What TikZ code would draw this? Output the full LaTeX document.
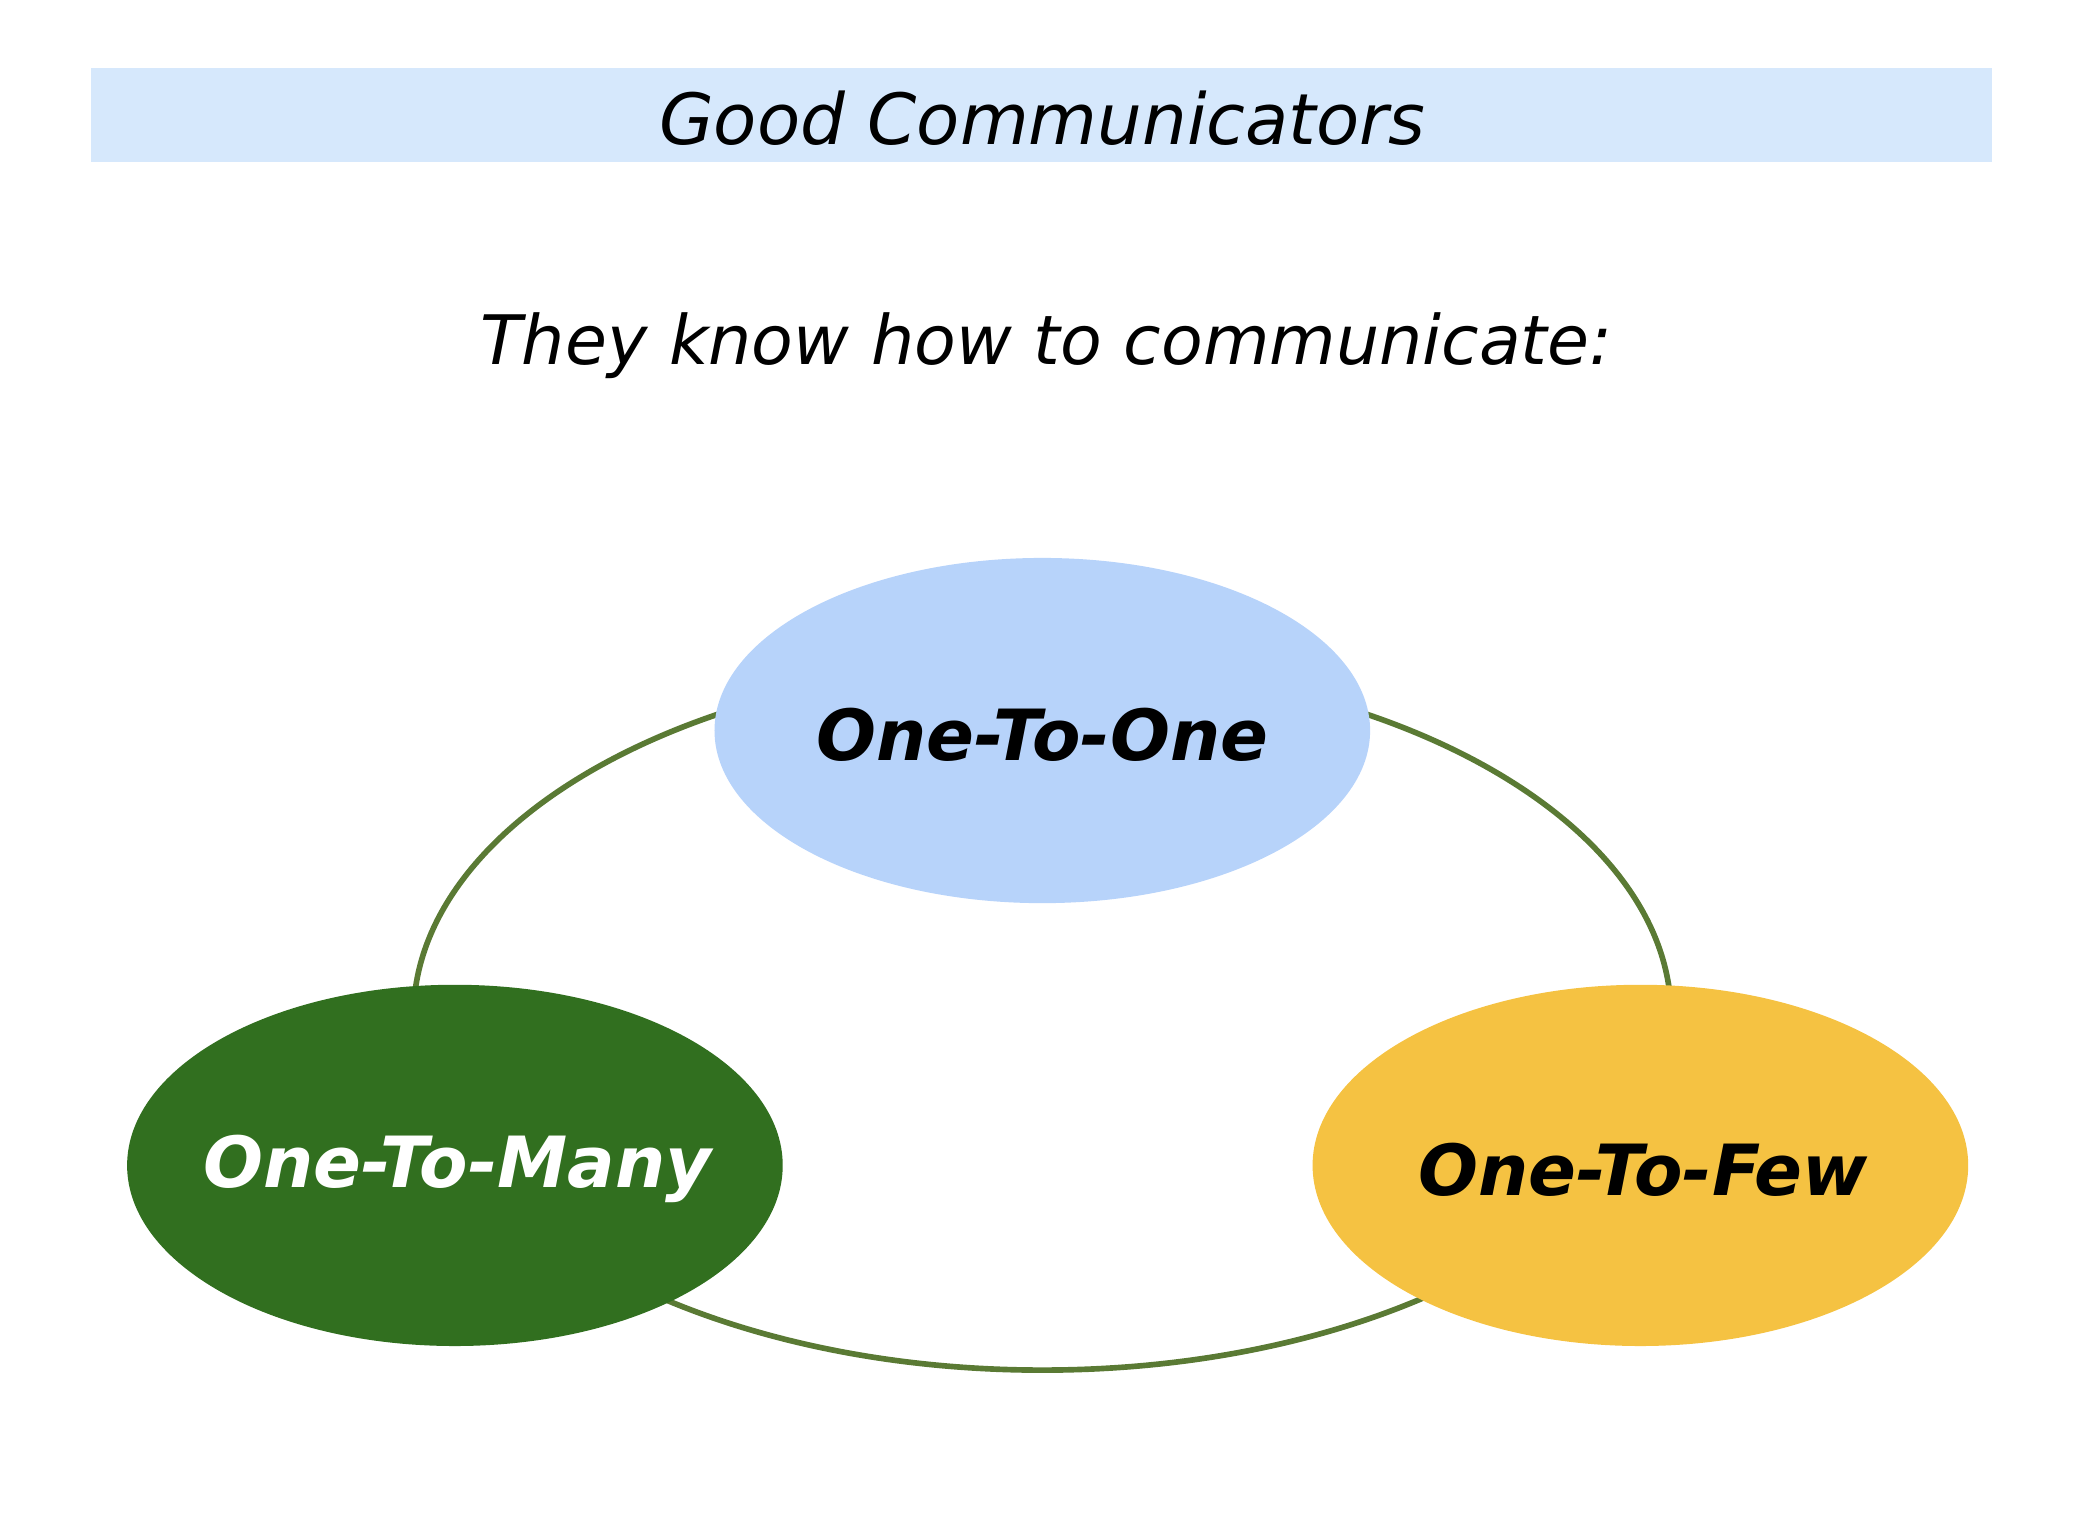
\documentclass[tikz,border=0pt]{standalone}
\usepackage{fontspec}
\setmainfont{DejaVu Sans}
\begin{document}
\begin{tikzpicture}[x=0.01cm,y=-0.01cm,
  lab/.style={font=\fontsize{15}{18}\selectfont\bfseries\itshape},
  bub/.style={ellipse,draw=none,x radius=245,y radius=130}]
\useasboundingbox (0,0) rectangle (1568,1143);
\fill[fill={rgb,255:red,214;green,232;blue,252}] (68,51) rectangle (1489,121);
\node (title) at (779,88) {\fontsize{15}{18}\selectfont\itshape Good Communicators};
\node (sub) at (782,258) {\fontsize{14.5}{18}\selectfont\itshape They know how to communicate:};
\draw[line width=1.2pt,draw={rgb,255:red,90;green,122;blue,52}] (779,760) ellipse [x radius=470,y radius=264];
\fill[fill={rgb,255:red,183;green,211;blue,250}] (779,546) ellipse [x radius=245,y radius=129];
\fill[fill={rgb,255:red,49;green,111;blue,31}] (340,871) ellipse [x radius=245,y radius=135];
\fill[fill={rgb,255:red,245;green,194;blue,66}] (1226,871) ellipse [x radius=245,y radius=135];
\node[lab] (one) at (779,549) {One-To-One};
\node[lab,text=white] (many) at (342,874) {One-To-Many};
\node[lab] (few) at (1228,874) {One-To-Few};
\end{tikzpicture}
\end{document}
